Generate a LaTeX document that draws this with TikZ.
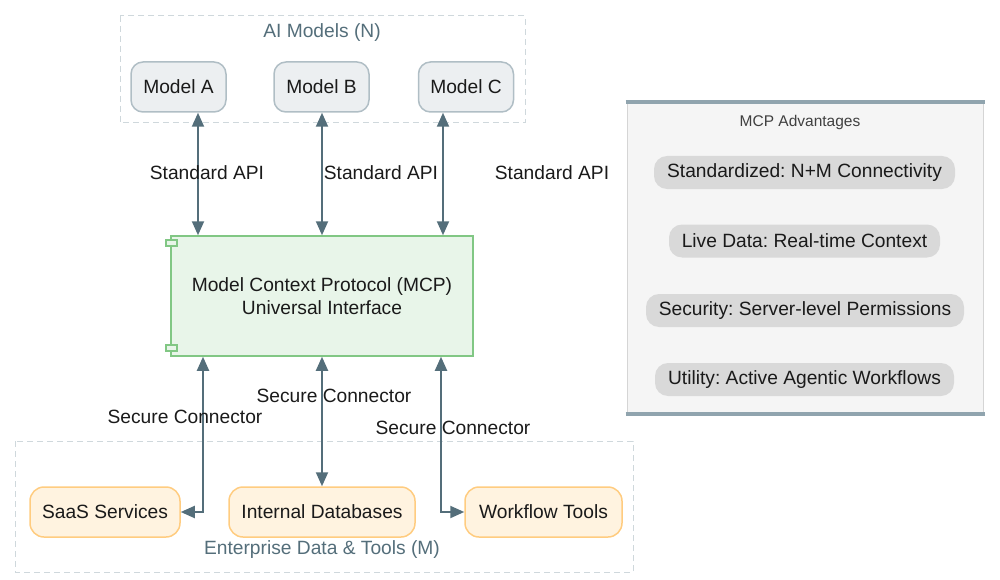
\documentclass[tikz,border=0pt]{standalone}
\usepackage{fontspec}
\setmainfont{Liberation Sans}
\usetikzlibrary{arrows.meta}
\definecolor{arrowc}{HTML}{546E7A}
\definecolor{clusterc}{HTML}{CFD8DC}
\definecolor{titlec}{HTML}{546E7A}
\definecolor{modelfill}{HTML}{ECEFF1}
\definecolor{modeldraw}{HTML}{B0BEC5}
\definecolor{mcpfill}{HTML}{E8F5E9}
\definecolor{mcpdraw}{HTML}{81C784}
\definecolor{entfill}{HTML}{FFF3E0}
\definecolor{entdraw}{HTML}{FFCC80}
\definecolor{panelfill}{HTML}{F5F5F5}
\definecolor{paneledge}{HTML}{90A4AE}
\definecolor{panelside}{HTML}{D5D5D5}
\definecolor{pillfill}{HTML}{D9D9D9}
\definecolor{textc}{HTML}{1A1A1A}
\begin{document}
\frenchspacing
\begin{tikzpicture}[x=1pt,y=-1pt,
  every node/.style={font=\fontsize{19.2}{23}\selectfont\frenchspacing, text=textc},
  cluster/.style={draw=clusterc, line width=1pt, dash pattern=on 6pt off 4pt},
  ctitle/.style={text=titlec},
  modelbox/.style={draw=modeldraw, fill=modelfill, line width=1.5pt, rounded corners=12pt, minimum width=95pt, minimum height=50pt, inner sep=0pt},
  entbox/.style={draw=entdraw, fill=entfill, line width=1.5pt, rounded corners=14pt, minimum height=50pt, inner sep=0pt},
  mcpbox/.style={draw=mcpdraw, fill=mcpfill, line width=1.5pt, minimum width=302pt, minimum height=120pt, inner sep=0pt, align=center},
  tabbox/.style={draw=mcpdraw, fill=mcpfill, line width=1.2pt, minimum width=11pt, minimum height=6pt, inner sep=0pt},
  conn/.style={draw=arrowc, line width=2pt, {Triangle[length=14pt,width=12pt]}-{Triangle[length=14pt,width=12pt]}},
  lbl/.style={inner sep=0pt},
  pill/.style={fill=pillfill, rounded corners=13pt, minimum height=33pt, inner sep=0pt},
]
\useasboundingbox (0,0) rectangle (1000,580);

% top cluster
\draw[cluster] (120,16) rectangle (525,123);
\node[ctitle] (ttop) at (322,33) {AI Models (N)};
\node[modelbox] (ma) at (178.5,87) {Model A};
\node[modelbox] (mb) at (321.5,87) {Model B};
\node[modelbox] (mc) at (466,87) {Model C};

% bottom cluster
\draw[cluster] (15,441) rectangle (633,572);
\node[ctitle] (tbot) at (322,550) {Enterprise Data \& Tools (M)};
\node[entbox, minimum width=150pt] (saas) at (105,512) {SaaS Services};
\node[entbox, minimum width=186pt] (db) at (322,512) {Internal Databases};
\node[entbox, minimum width=157pt] (wf) at (543.5,512) {Workflow Tools};

% MCP
\node[mcpbox] (mcp) at (322,296) {Model Context Protocol (MCP)\\Universal Interface};
\node[tabbox] (tab1) at (171.5,243) {};
\node[tabbox] (tab2) at (171.5,348) {};

% x positions of connectors
\coordinate (xa) at (198,0);
\coordinate (xb) at (322,0);
\coordinate (xc) at (443,0);
\coordinate (xl) at (203,0);
\coordinate (xm) at (322,0);
\coordinate (xr) at (441,0);

\draw[conn] (ma.south -| xa) -- (mcp.north -| xa);
\draw[conn] (mb.south -| xb) -- (mcp.north -| xb);
\draw[conn] (mc.south -| xc) -- (mcp.north -| xc);

\draw[conn] (mcp.south -| xl) |- (saas.east);
\draw[conn] (mcp.south -| xm) -- (db.north);
\draw[conn] (mcp.south -| xr) |- (wf.west);

\node[lbl] (l1) at (207,173) {Standard API};
\node[lbl] (l2) at (381,173) {Standard API};
\node[lbl] (l3) at (552,173) {Standard API};
\node[lbl] (s1) at (185,417) {Secure Connector};
\node[lbl] (s2) at (334,396) {Secure Connector};
\node[lbl] (s3) at (453,428) {Secure Connector};

% advantages panel
\fill[panelfill] (627,102) rectangle (983,414);
\draw[panelside, line width=1pt] (627,102) -- (627,414) (983,102) -- (983,414);
\draw[paneledge, line width=4pt] (625.5,102) -- (984.5,102) (625.5,414) -- (984.5,414);
\node[font=\fontsize{15.5}{18}\selectfont, text=black!75] (ptitle) at (800,122) {MCP Advantages};
\node[pill, minimum width=301pt] (p1) at (804.5,172.5) {Standardized: N+M Connectivity};
\node[pill, minimum width=271pt] (p2) at (804.5,241) {Live Data: Real-time Context};
\node[pill, minimum width=318pt] (p3) at (805,310.5) {Security: Server-level Permissions};
\node[pill, minimum width=299pt] (p4) at (804.5,379.5) {Utility: Active Agentic Workflows};
\end{tikzpicture}
\end{document}
